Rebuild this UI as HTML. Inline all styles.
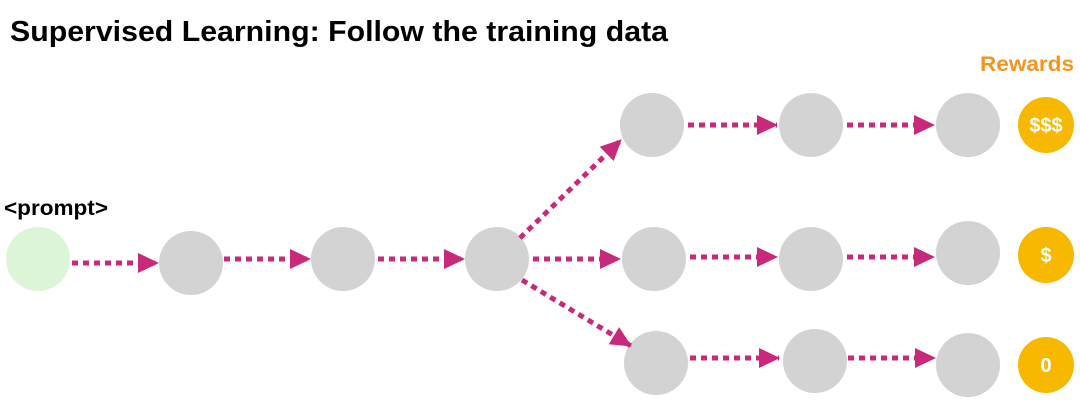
<!DOCTYPE html>
<html><head><meta charset="utf-8"><style>
html,body{margin:0;padding:0;background:#fff;width:1080px;height:407px;overflow:hidden}
</style></head><body>
<svg width="1080" height="407" viewBox="0 0 1080 407" xmlns="http://www.w3.org/2000/svg">
<defs>
<marker id="a" markerWidth="22" markerHeight="22" refX="20" refY="10" orient="auto" markerUnits="userSpaceOnUse">
<path d="M0,0 L21,10 L0,20 Z" fill="#C8297A"/>
</marker>
</defs>
<text x="10" y="41" font-family="Liberation Sans, sans-serif" font-weight="bold" font-size="29" textLength="658" lengthAdjust="spacingAndGlyphs" fill="#000">Supervised Learning: Follow the training data</text>
<text x="980" y="71" font-family="Liberation Sans, sans-serif" font-weight="bold" font-size="21" textLength="94" lengthAdjust="spacingAndGlyphs" fill="#F7941D">Rewards</text>
<text x="4" y="215" font-family="Liberation Sans, sans-serif" font-weight="bold" font-size="21" textLength="104" lengthAdjust="spacingAndGlyphs" fill="#000">&lt;prompt&gt;</text>
<g fill="#D3D3D3">
<circle cx="38" cy="259" r="32" fill="#DDF5D7"/>
<circle cx="191" cy="263" r="32"/>
<circle cx="343" cy="259" r="32"/>
<circle cx="497" cy="259" r="32"/>
<circle cx="652" cy="125" r="32"/>
<circle cx="811" cy="125" r="32"/>
<circle cx="968" cy="125" r="32"/>
<circle cx="654" cy="259" r="32"/>
<circle cx="811" cy="259" r="32"/>
<circle cx="968" cy="253" r="32"/>
<circle cx="656" cy="363" r="32"/>
<circle cx="815" cy="361" r="32"/>
<circle cx="968" cy="365" r="32"/>
</g>
<g fill="#F7B900">
<circle cx="1046" cy="125" r="28"/>
<circle cx="1046" cy="255" r="28"/>
<circle cx="1046" cy="365" r="28"/>
</g>
<g font-family="Liberation Sans, sans-serif" font-weight="bold" font-size="20" fill="#fff" text-anchor="middle">
<text x="1046" y="132">$$$</text>
<text x="1046" y="262">$</text>
<text x="1046" y="372">0</text>
</g>
<g stroke="#C8297A" stroke-width="5" stroke-dasharray="6 5" fill="none" marker-end="url(#a)">
<line x1="72" y1="263" x2="158" y2="263"/>
<line x1="224" y1="259" x2="310" y2="259"/>
<line x1="378" y1="259" x2="464" y2="259"/>
<line x1="520" y1="238" x2="621" y2="140"/>
<line x1="533" y1="259" x2="620" y2="259"/>
<line x1="522" y1="280" x2="631" y2="346"/>
<line x1="688" y1="125" x2="777" y2="125"/>
<line x1="847" y1="125" x2="934" y2="125"/>
<line x1="690" y1="257" x2="777" y2="257"/>
<line x1="847" y1="257" x2="934" y2="257"/>
<line x1="690" y1="358" x2="779" y2="358"/>
<line x1="848" y1="358" x2="935" y2="358"/>
</g>
</svg>
</body></html>
